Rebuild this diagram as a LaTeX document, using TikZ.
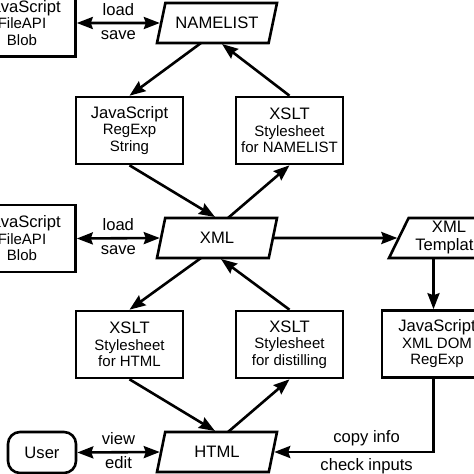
\documentclass[tikz,border=0pt]{standalone}
\usepackage{fontspec}
\setmainfont{Liberation Sans}
\usetikzlibrary{calc}
\usetikzlibrary{arrows.meta}
\usetikzlibrary{shapes.geometric}

\newcommand{\hdline}[1]{{\fontsize{16.6}{16.5}\selectfont #1}}

\tikzset{
 blk/.style={draw, line width=2.6pt, minimum width=107, minimum height=67, inner sep=0, align=center, font=\fontsize{15}{16.5}\selectfont},
 para/.style={draw, line width=2.6pt, trapezium, trapezium left angle=62, trapezium right angle=118, trapezium stretches body, minimum width=120, minimum height=40, inner sep=2pt, align=center, font=\fontsize{16.6}{18}\selectfont},
 lnk/.style={line width=2.6pt, -{Stealth[length=16pt,width=12pt,inset=2pt]}},
 lnkb/.style={line width=2.6pt, {Stealth[length=16pt,width=12pt,inset=2pt]}-{Stealth[length=16pt,width=12pt,inset=2pt]}},
 lbl/.style={font=\fontsize{16.6}{18}\selectfont, inner sep=3pt, text height=12pt, text depth=3pt},
}

\begin{document}
\begin{tikzpicture}[x=1pt, y=-1pt]
\useasboundingbox (0,0) rectangle (474,474);
\clip (0,0) rectangle (474,474);
\node[blk] (fa1) at (22,23) {\hdline{JavaScript}\\FileAPI\\Blob};
\node[blk] (fa2) at (22,238.5) {\hdline{JavaScript}\\FileAPI\\Blob};
\node[para] (nl) at (217,23) {NAMELIST};
\node[para] (xml) at (217,238) {XML};
\node[para] (tpl) at (449,238) {XML\\Template};
\node[para] (html) at (217,452) {HTML};
\node[blk] (rx) at (129.5,130.5) {\hdline{JavaScript}\\RegExp\\String};
\node[blk] (xn) at (289.5,130.5) {\hdline{XSLT}\\Stylesheet\\for NAMELIST};
\node[blk] (xh) at (129.5,344.5) {\hdline{XSLT}\\Stylesheet\\for HTML};
\node[blk] (xd) at (289.5,344.5) {\hdline{XSLT}\\Stylesheet\\for distilling};
\node[blk, minimum width=110] (dom) at (437,344) {\hdline{JavaScript}\\XML DOM\\RegExp};
\node[draw, line width=2.6pt, rounded corners=12pt, minimum width=68, minimum height=41, font=\fontsize{16.6}{18}\selectfont] (user) at (42,452.5) {User};
\coordinate (tdn) at ($(tpl)+(-15.5,20)$);

\draw[lnkb] (fa1.east) -- (nl.west) node[lbl, midway, above] {load} node[lbl, midway, below] {save};
\draw[lnk] ($(nl)+(-16,20)$) -- (rx.north);
\draw[lnk] (xn.north) -- ($(nl)+(5,21)$);
\draw[lnk] (rx.south) -- ($(xml)+(-2,-21)$);
\draw[lnk] ($(xml)+(11,-20)$) -- (xn.south);
\draw[lnkb] (fa2.east) -- (xml.west) node[lbl, midway, above] {load} node[lbl, midway, below] {save};
\draw[lnk] (xml.east) -- (tpl.west);
\draw[lnk] (tdn) -- (tdn |- dom.north);
\draw[lnk] ($(xml)+(-16,20)$) -- (xh.north);
\draw[lnk] (xd.north) -- ($(xml)+(4,21)$);
\draw[lnk] (xh.south) -- ($(html)+(-2,-21)$);
\draw[lnk] ($(html)+(11,-20)$) -- (xd.south);
\draw[lnkb] (user.east) -- (html.west) node[lbl, midway, above] {view} node[lbl, midway, below] {edit};
\draw[lnk] (tdn |- dom.south) |- (html.east) node[lbl, pos=.71, above, inner sep=5pt] {copy info} node[lbl, pos=.71, below, inner sep=5pt] {check inputs};
\end{tikzpicture}
\end{document}
